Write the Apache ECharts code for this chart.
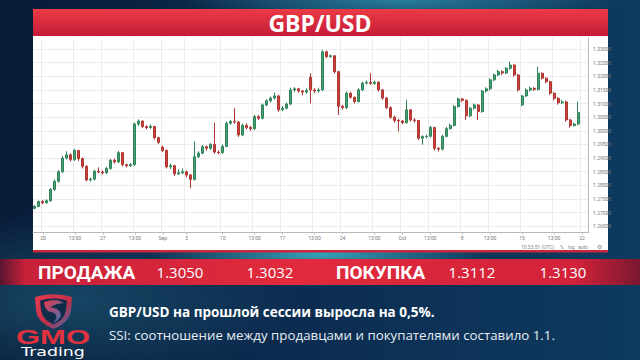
<!DOCTYPE html>
<html><head><meta charset="utf-8">
<script src="https://cdn.jsdelivr.net/npm/echarts@6/dist/echarts.min.js"></script>
<style>
html,body{margin:0;padding:0;}
body{width:640px;height:360px;overflow:hidden;background:#0b2747;position:relative;}
#bg{position:absolute;left:0;top:0;width:640px;height:360px;
background:
 radial-gradient(ellipse 170px 34px at 320px 254px, rgba(60,175,195,0.9), rgba(60,175,195,0) 100%),
 radial-gradient(ellipse 220px 26px at 400px 0px, rgba(45,140,170,0.85), rgba(45,140,170,0) 100%),
 radial-gradient(ellipse 240px 90px at 60px 300px, rgba(35,105,135,0.55), rgba(35,105,135,0) 100%),
 linear-gradient(90deg, #081a36 0%, #0c2c50 45%, #0e3a60 100%);}
#chart{position:absolute;left:0;top:0;width:640px;height:360px;}
</style></head>
<body><div id="bg"></div><div id="chart"></div>
<script>
// ---- DATA ----
const xLabels = ['20','13:00','27','13:00','Sep','3','10','13:00','17','13:00','24','13:00','Oct','13:00','8','13:00','15','13:00','22'];
const xLabelIdx = [2,10,17,25,32,38,47,55,62,70,77,85,92,99,107,114,122,130,137];
const slotCount = 139;
const yMin = 1.265, yMax = 1.330, yStep = 0.005;
const opens = [1.2716,1.2723,1.2741,1.2736,1.2744,1.2785,1.2815,1.2850,1.2900,1.2912,
 1.2894,1.2928,1.2898,1.2870,1.2820,1.2823,1.2852,1.2849,1.2846,1.2862,
 1.2892,1.2886,1.2920,1.2876,1.2872,1.2876,1.3025,1.3036,1.3016,1.3012,
 1.3016,1.2975,1.2940,1.2928,1.2868,1.2872,1.2842,1.2846,1.2850,1.2838,
 1.2822,1.2905,1.2918,1.2942,1.2936,1.2950,1.2922,1.2920,1.2943,1.3028,
 1.3034,1.3032,1.2985,1.3020,1.3012,1.3008,1.3052,1.3046,1.3095,1.3110,
 1.3120,1.3128,1.3077,1.3083,1.3098,1.3150,1.3154,1.3146,1.3142,1.3196,
 1.3150,1.3146,1.3150,1.3290,1.3272,1.3275,1.3217,1.3090,1.3085,1.3138,
 1.3123,1.3107,1.3150,1.3175,1.3177,1.3174,1.3178,1.3150,1.3120,1.3085,
 1.3050,1.3038,1.3036,1.3030,1.3077,1.3040,1.3038,1.2973,1.2979,1.2980,
 1.3012,1.2936,1.2933,1.2980,1.3008,1.3020,1.3089,1.3117,1.3112,1.3055,
 1.3083,1.3095,1.3071,1.3146,1.3154,1.3187,1.3205,1.3217,1.3212,1.3229,
 1.3241,1.3205,1.3095,1.3128,1.3150,1.3156,1.3152,1.3211,1.3193,1.3180,
 1.3138,1.3119,1.3103,1.3106,1.3040,1.3019,1.3025];
const closes = [1.2723,1.2741,1.2736,1.2744,1.2785,1.2815,1.2850,1.2900,1.2912,1.2894,
 1.2928,1.2898,1.2870,1.2820,1.2823,1.2852,1.2849,1.2846,1.2862,1.2892,
 1.2886,1.2920,1.2876,1.2872,1.2876,1.3025,1.3036,1.3016,1.3012,1.3016,
 1.2975,1.2958,1.2928,1.2868,1.2872,1.2842,1.2846,1.2850,1.2838,1.2822,
 1.2905,1.2918,1.2942,1.2936,1.2950,1.2922,1.2920,1.2943,1.3028,1.3034,
 1.3032,1.2985,1.3020,1.3012,1.3008,1.3052,1.3046,1.3095,1.3110,1.3120,
 1.3128,1.3077,1.3083,1.3098,1.3150,1.3154,1.3146,1.3142,1.3148,1.3150,
 1.3146,1.3150,1.3290,1.3272,1.3275,1.3217,1.3090,1.3085,1.3138,1.3123,
 1.3107,1.3150,1.3175,1.3177,1.3174,1.3178,1.3150,1.3120,1.3085,1.3050,
 1.3038,1.3036,1.3030,1.3077,1.3040,1.3038,1.2973,1.2979,1.2980,1.3012,
 1.2936,1.2933,1.2980,1.3008,1.3020,1.3089,1.3117,1.3112,1.3055,1.3083,
 1.3095,1.3071,1.3146,1.3154,1.3187,1.3205,1.3217,1.3212,1.3229,1.3241,
 1.3205,1.3150,1.3128,1.3150,1.3156,1.3152,1.3211,1.3193,1.3180,1.3138,
 1.3119,1.3103,1.3106,1.3040,1.3019,1.3025,1.3067];
const highs = [1.2728,1.2745,1.2746,1.2749,1.2790,1.2820,1.2856,1.2908,1.2925,1.2918,
 1.2934,1.2930,1.2902,1.2874,1.2828,1.2858,1.2866,1.2855,1.2868,1.2897,
 1.2898,1.2926,1.2922,1.2880,1.2882,1.3030,1.3042,1.3038,1.3020,1.3024,
 1.3018,1.2978,1.2946,1.2932,1.2880,1.2876,1.2858,1.2862,1.2855,1.2842,
 1.2962,1.2925,1.2948,1.2946,1.2955,1.3030,1.2928,1.2950,1.3034,1.3040,
 1.3083,1.3036,1.3026,1.3028,1.3018,1.3058,1.3058,1.3100,1.3116,1.3126,
 1.3140,1.3132,1.3090,1.3104,1.3158,1.3160,1.3158,1.3150,1.3156,1.3211,
 1.3156,1.3158,1.3296,1.3294,1.3280,1.3278,1.3220,1.3095,1.3144,1.3142,
 1.3126,1.3156,1.3180,1.3184,1.3211,1.3184,1.3182,1.3154,1.3124,1.3090,
 1.3055,1.3044,1.3040,1.3113,1.3080,1.3046,1.3040,1.2984,1.2986,1.3018,
 1.3015,1.2940,1.2986,1.3014,1.3026,1.3094,1.3122,1.3120,1.3115,1.3088,
 1.3100,1.3098,1.3150,1.3160,1.3192,1.3210,1.3224,1.3222,1.3234,1.3254,
 1.3244,1.3208,1.3132,1.3156,1.3162,1.3160,1.3235,1.3214,1.3196,1.3184,
 1.3142,1.3124,1.3114,1.3110,1.3044,1.3030,1.3107];
const lows = [1.2712,1.2720,1.2731,1.2733,1.2740,1.2780,1.2810,1.2846,1.2895,1.2888,
 1.2890,1.2890,1.2862,1.2815,1.2814,1.2818,1.2844,1.2840,1.2842,1.2858,
 1.2880,1.2882,1.2870,1.2866,1.2868,1.2872,1.3018,1.3010,1.3005,1.3008,
 1.2968,1.2952,1.2922,1.2862,1.2860,1.2835,1.2838,1.2842,1.2830,1.2790,
 1.2818,1.2900,1.2914,1.2928,1.2930,1.2916,1.2914,1.2916,1.2940,1.3022,
 1.3026,1.2978,1.2980,1.3005,1.3000,1.3004,1.3040,1.3042,1.3090,1.3105,
 1.3115,1.3070,1.3072,1.3078,1.3094,1.3142,1.3140,1.3130,1.3136,1.3101,
 1.3138,1.3140,1.3146,1.3266,1.3268,1.3210,1.3058,1.3078,1.3080,1.3118,
 1.3100,1.3104,1.3146,1.3170,1.3168,1.3168,1.3144,1.3114,1.3080,1.3044,
 1.3030,1.2998,1.3024,1.3026,1.3034,1.3030,1.2966,1.2949,1.2972,1.2976,
 1.2928,1.2924,1.2928,1.2976,1.3004,1.3016,1.3085,1.3106,1.3040,1.3050,
 1.3078,1.3040,1.3066,1.3140,1.3148,1.3182,1.3200,1.3205,1.3208,1.3224,
 1.3198,1.3144,1.3090,1.3124,1.3144,1.3146,1.3148,1.3188,1.3174,1.3132,
 1.3112,1.3096,1.3098,1.3034,1.3012,1.3016,1.3020];
const pairTitle = 'GBP/USD';
const sellLabel = 'ПРОДАЖА', sellPrices = ['1.3050','1.3032'];
const buyLabel = 'ПОКУПКА', buyPrices = ['1.3112','1.3130'];
const headline = 'GBP/USD на прошлой сессии выросла на 0,5%.';
const subline = 'SSI: соотношение между продавцами и покупателями составило 1.1.';

// ---- BUILD ----
const cats = new Array(slotCount).fill('');
xLabelIdx.forEach((idx, k) => { cats[idx] = xLabels[k]; });
const candles = opens.map((o, i) => [o, closes[i], lows[i], highs[i]]);
const isLab = (i, v) => v !== '';
const G = echarts.graphic;

function txt(text, x, y, size, weight, color, align, family, extra) {
  return Object.assign({type:'text', z:10, style:{text:text, x:x, y:y, fill:color,
    fontSize:size, fontWeight:weight, fontFamily:family || 'Open Sans',
    textAlign:align || 'left', textVerticalAlign:'middle', align:align || 'left', verticalAlign:'middle'}}, extra || {});
}

const chart = echarts.init(document.getElementById('chart'), null, {renderer:'svg', width:640, height:360});
chart.setOption({
  animation:false,
  backgroundColor:'transparent',
  grid:[
    {left:33, right:52, top:38, bottom:127.5},
    {left:33, right:52, top:49, bottom:133.7}
  ],
  xAxis:[
    {gridIndex:0, type:'category', data:cats, boundaryGap:true,
     axisLine:{show:true, lineStyle:{color:'#b8b8b8', width:1}},
     axisTick:{show:true, interval:isLab, alignWithLabel:true, length:2, lineStyle:{color:'#b8b8b8'}},
     axisLabel:{interval:0, fontSize:5, color:'#777', margin:3, fontFamily:'Roboto'},
     splitLine:{show:true, interval:isLab, lineStyle:{color:'#ececec', width:1}}},
    {gridIndex:1, type:'category', data:cats, boundaryGap:true, show:false}
  ],
  yAxis:[
    {gridIndex:0, type:'value', position:'right', min:0, max:1,
     axisLine:{show:true, lineStyle:{color:'#b8b8b8'}}, axisLabel:{show:false}, axisTick:{show:false}, splitLine:{show:false}},
    {gridIndex:1, type:'value', position:'right', min:yMin, max:yMax, interval:yStep,
     axisLine:{show:false}, axisTick:{show:false},
     axisLabel:{fontSize:5, color:'#777', margin:5, fontFamily:'Roboto', formatter:v => v.toFixed(5)},
     splitLine:{show:true, lineStyle:{color:'#ececec', width:1}}}
  ],
  series:[{
    type:'candlestick', xAxisIndex:1, yAxisIndex:1, data:candles, barWidth:2.5,
    itemStyle:{color:'#46a072', color0:'#c8443c', borderColor:'#2f8358', borderColor0:'#ad3630', borderWidth:1}
  }],
  graphic:[
    {type:'rect', z:-5, shape:{x:33, y:9, width:575, height:27},
     style:{fill:new G.LinearGradient(0,0,0,1,[{offset:0,color:'#ec3b46'},{offset:1,color:'#c51b38'}])}},
    txt(pairTitle, 320, 22.5, 23, 'bold', '#ffffff', 'center'),
    {type:'rect', z:-5, shape:{x:33, y:36, width:575, height:214}, style:{fill:'#ffffff'}},
    {type:'rect', z:-5, shape:{x:33, y:250, width:575, height:2.5}, style:{fill:'#c9283c'}},
    txt('10:53:51 (UTC)', 521, 246.5, 5, 'normal', '#888', 'left', 'Roboto'),
    txt('%', 560, 246.5, 5, 'normal', '#888', 'left', 'Roboto'),
    txt('log', 568, 246.5, 5, 'normal', '#888', 'left', 'Roboto'),
    txt('auto', 578, 246.5, 5, 'normal', '#888', 'left', 'Roboto'),
    txt('⚙', 597, 246.5, 6, 'normal', '#888', 'left', 'DejaVu Sans'),
    {type:'rect', z:-5, shape:{x:0, y:259, width:640, height:26},
     style:{fill:new G.LinearGradient(0,0,1,0,[{offset:0,color:'#5a1530'},{offset:0.04,color:'#c8213a'},{offset:0.45,color:'#e22a3c'},{offset:0.9,color:'#d2223a'},{offset:1,color:'#7a1830'}])}},
    txt(sellLabel, 38, 272, 19, 'bold', '#ffffff', 'left', 'Roboto'),
    txt(sellPrices[0], 180, 272, 15, 'normal', '#ffffff', 'center'),
    txt(sellPrices[1], 270, 272, 15, 'normal', '#ffffff', 'center'),
    txt(buyLabel, 336, 272, 19, 'bold', '#ffffff', 'left', 'Roboto'),
    txt(buyPrices[0], 472, 272, 15, 'normal', '#ffffff', 'center'),
    txt(buyPrices[1], 563, 272, 15, 'normal', '#ffffff', 'center'),
    {type:'polygon', z:5, shape:{points:[[35,297],[44,295],[53.5,294.3],[63,295],[72,297],[71.5,304],[71,310],[69.5,316],[66,321],[60,326],[53.5,329],[47,326],[41,321],[37.5,316],[36,310],[35.5,304]]},
     style:{fill:new G.LinearGradient(0,0,1,1,[{offset:0,color:'#ea3a4c'},{offset:0.55,color:'#c23048'},{offset:1,color:'#2f6fb5'}])}},
    {type:'polygon', z:6, shape:{points:[[40,300.5],[47,299],[53.5,298.5],[60,299],[67,300.5],[66.5,305],[66,310],[64.5,315],[61,320],[53.5,324.5],[46,320],[42.5,315],[41,310],[40.5,305]]},
     style:{fill:'#0f2d4a'}},
    {type:'polygon', z:7, shape:{points:[[44,302],[51,300.3],[58,300.2],[64,303],[57,304],[50,307],[56,308.5],[60,311.5],[61,316],[58,320],[53.5,323],[56.5,318],[56,315],[54,313],[48,311],[45,307.5]]},
     style:{fill:new G.LinearGradient(0,0,1,1,[{offset:0,color:'#e8394a'},{offset:1,color:'#3a78c0'}])}},
    txt('GMO', 53, 337, 20, 'bold', '#e3323f', 'center', 'Liberation Sans', {scaleX:1.55, scaleY:1, originX:53, originY:337}),
    txt('Trading', 53, 352, 12, 'normal', '#ffffff', 'center', 'DejaVu Sans', {scaleX:1.45, originX:53, originY:352}),
    txt(headline, 109, 312, 13.5, 'bold', '#ffffff', 'left'),
    txt(subline, 109, 335, 13.3, 'normal', '#e6edf4', 'left')
  ]
});
</script>
</body></html>
